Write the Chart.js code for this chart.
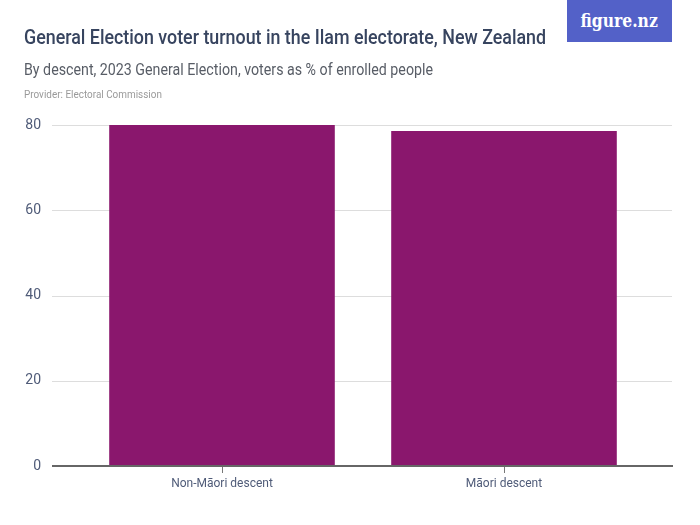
<!DOCTYPE html>
<html>
<head>
<meta charset="utf-8">
<script src="https://cdn.jsdelivr.net/npm/chart.js@4"></script>
<style>
  body { margin: 0; background: #fff; }
  #wrap { position: relative; width: 700px; height: 525px; overflow: hidden; }
  canvas { position: absolute; left: 0; top: 0; }
  .txt { position: absolute; left: 24px; white-space: nowrap; font-family: Roboto, sans-serif; transform-origin: left center; }
  #title { top: 25px; font-size: 20px; line-height: 24px; font-weight: 500; color: #37445f; }
  #subtitle { top: 60px; font-size: 16px; line-height: 20px; color: #585d66; }
  #provider { top: 88px; font-size: 11px; line-height: 13px; color: #9a9a9a; }
  #logo { position: absolute; left: 567px; top: 0; width: 105px; height: 42px; background: #5361c8;
          color: #fff; font-family: "DejaVu Serif", serif; font-size: 19px; font-weight: bold; line-height: 40px; text-align: center; }
</style>
</head>
<body>
<div id="wrap">
  <canvas id="chart" width="700" height="525"></canvas>
  <div class="txt" id="title" data-w="522">General Election voter turnout in the Ilam electorate, New Zealand</div>
  <div class="txt" id="subtitle" data-w="409">By descent, 2023 General Election, voters as % of enrolled people</div>
  <div class="txt" id="provider" data-w="138">Provider: Electoral Commission</div>
  <div id="logo"><span id="logotxt">figure.nz</span></div>
</div>
<script>
const categories = ["Non-Māori descent", "Māori descent"];
const turnout = [80.0, 78.6];
const yTicks = [0, 20, 40, 60, 80];

// squeeze text to the condensed widths of the original
document.querySelectorAll(".txt").forEach(el => {
  const target = parseFloat(el.dataset.w);
  el.style.transform = `scaleX(${target / el.scrollWidth})`;
});
const lt = document.getElementById("logotxt");
lt.style.display = "inline-block";
lt.style.transform = "scaleX(0.82)";

const FULL_LEFT = 52, FULL_RIGHT = 672;

// gridlines and baseline run wider than the category area
const widePlot = {
  id: "widePlot",
  beforeDatasetsDraw(chart) {
    const ctx = chart.ctx;
    const y = chart.scales.y;
    ctx.save();
    yTicks.forEach(v => {
      if (v === 0) return;
      const py = Math.round(y.getPixelForValue(v)) + 0.5;
      ctx.strokeStyle = "#dddddd";
      ctx.lineWidth = 1;
      ctx.beginPath();
      ctx.moveTo(FULL_LEFT, py);
      ctx.lineTo(FULL_RIGHT, py);
      ctx.stroke();
    });
    ctx.restore();
  },
  afterDatasetsDraw(chart) {
    const ctx = chart.ctx;
    const py = chart.scales.y.getPixelForValue(0);
    ctx.save();
    ctx.strokeStyle = "#666666";
    ctx.lineWidth = 2;
    ctx.beginPath();
    ctx.moveTo(FULL_LEFT, py);
    ctx.lineTo(FULL_RIGHT + 1, py);
    ctx.stroke();
    ctx.restore();
  }
};

new Chart(document.getElementById("chart").getContext("2d"), {
  type: "bar",
  data: {
    labels: categories,
    datasets: [{
      data: turnout,
      backgroundColor: "#8a176d",
      barPercentage: 0.8,
      categoryPercentage: 1.0
    }]
  },
  options: {
    responsive: false,
    animation: false,
    layout: { padding: { top: 125, right: 55, left: 0, bottom: 0 } },
    plugins: { legend: { display: false }, tooltip: { enabled: false } },
    scales: {
      x: {
        afterFit(scale) { scale.height = 59; },
        grid: { display: true, offset: false, drawOnChartArea: false, tickLength: 7, tickColor: "#777777", tickWidth: 1 },
        border: { display: false },
        ticks: { padding: 4, color: "#4f5b78", font: { family: "Roboto", size: 12 } }
      },
      y: {
        min: 0,
        max: 80,
        afterFit(scale) { scale.width = 81; },
        afterBuildTicks(scale) { scale.ticks = yTicks.map(v => ({ value: v })); },
        grid: { display: false, drawTicks: false },
        border: { display: false },
        ticks: { padding: 40, color: "#4f5b78", font: { family: "Roboto", size: 14 } }
      }
    }
  },
  plugins: [widePlot]
});
</script>
</body>
</html>
